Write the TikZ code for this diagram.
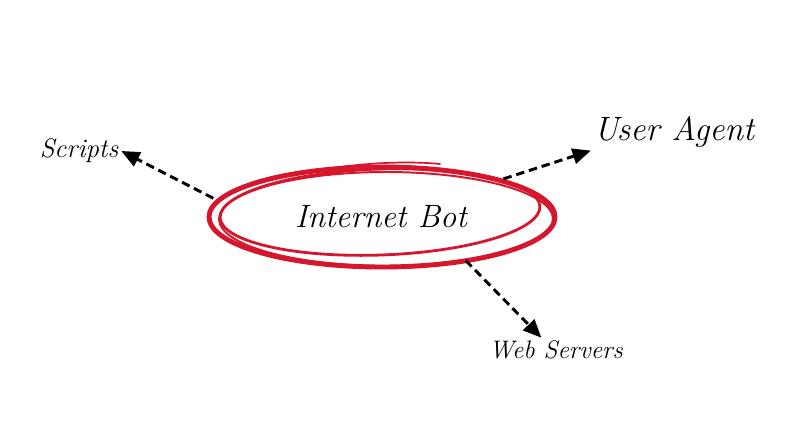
\documentclass[tikz,border=0pt]{standalone}
\usetikzlibrary{arrows.meta}
\usetikzlibrary{shapes.geometric}
\usetikzlibrary{positioning}

\definecolor{penred}{RGB}{214,22,44}

\tikzset{
  word/.style={font=\fontsize{22}{26}\selectfont\itshape, inner sep=2pt},
  ring/.style={draw=penred, line cap=round},
  dasharrow/.style={line width=2.1pt, dash pattern=on 6pt off 3.5pt, -{Triangle[length=13pt,width=11pt]}}
}

\begin{document}
\begin{tikzpicture}[x=0.025cm,y=-0.025cm]
\useasboundingbox (0,0) rectangle (800,422);

% the hand drawn ring
\draw[ring,line width=3.5pt] (382,217) ellipse [x radius=173, y radius=50];
\draw[ring,line width=2pt,rotate around={2:(380,212)}] (380,212) ellipse [x radius=160, y radius=43];
\draw[ring,line width=1.4pt] (386,219) ellipse [x radius=167, y radius=47];
\draw[ring,line width=1.2pt] (290,176) .. controls (340,164) and (400,160) .. (440,164);
\node[ellipse,minimum width=360*0.025cm,minimum height=100*0.025cm] (bot) at (382,216) {};
\node[word,font=\fontsize{23}{28}\selectfont\itshape] (botlabel) at (381,217) {Internet Bot};

% the labels round it
\node[word,font=\fontsize{19}{24}\selectfont\itshape] (scripts) at (79,151) {Scripts};
\node[word,font=\fontsize{24}{28}\selectfont\itshape] (agent) at (674,132) {User Agent};
\node[word,font=\fontsize{18}{24}\selectfont\itshape] (servers) at (556,350) {Web Servers};

\draw[dasharrow] (bot.174) -- (scripts.east);
\draw[dasharrow] (bot.17) -- (agent.south west);
\draw[dasharrow] (bot.-28) -- (servers.140);

\end{tikzpicture}
\end{document}
